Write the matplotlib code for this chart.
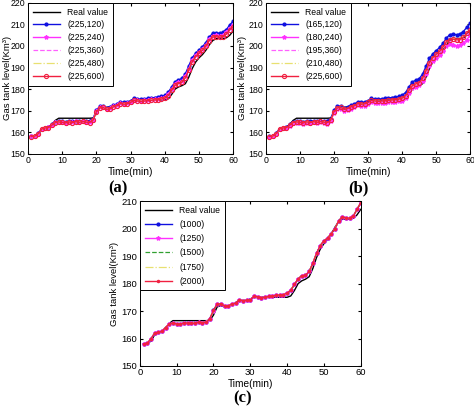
import numpy as np
import matplotlib
matplotlib.use("Agg")
import matplotlib.pyplot as plt

plt.rcParams['font.family'] = ['Liberation Sans', 'DejaVu Sans']

t = np.arange(1, 61)

real = [158.0, 158.3, 159.0, 161.3, 162.0, 162.4, 163.6, 165.5, 166.5, 166.5,
        166.5, 166.5, 166.5, 166.5, 166.5, 166.5, 166.5, 166.5, 166.6, 168.5,
        171.5, 172.0, 171.5, 171.8, 172.4, 172.8, 173.5, 173.5, 173.6, 174.4,
        175.0, 175.0, 175.0, 175.0, 175.0, 175.0, 175.0, 175.0, 175.0, 175.0,
        175.5, 177.5, 180.0, 181.0, 181.6, 182.5, 185.5, 189.5, 192.5, 194.5,
        196.0, 198.0, 200.5, 202.5, 203.4, 203.5, 203.5, 203.8, 205.0, 207.0]

# (a) window 225, different steps
a_120 = [158.2, 158.4, 159.6, 161.7, 162.2, 162.4, 163.6, 164.9, 165.2, 165.0,
         164.8, 165.2, 165.0, 165.3, 165.1, 165.4, 165.2, 165.4, 166.2, 170.3,
         172.0, 172.1, 171.3, 171.8, 172.5, 173.1, 174.1, 173.8, 174.0, 174.6,
         175.7, 175.4, 175.3, 175.5, 175.7, 175.9, 176.1, 176.3, 176.6, 177.1,
         178.5, 181.0, 183.4, 184.2, 185.0, 187.1, 190.7, 194.5, 196.6, 198.1,
         199.6, 201.6, 204.1, 205.9, 206.1, 205.9, 206.4, 207.6, 209.8, 211.5]
a_240 = [158.1, 158.3, 159.4, 161.6, 162.1, 162.3, 163.4, 164.6, 164.9, 164.7,
         164.5, 164.9, 164.7, 165.0, 164.8, 165.1, 164.9, 164.8, 165.8, 169.8,
         171.6, 171.8, 170.9, 171.3, 172.1, 172.6, 173.6, 173.3, 173.5, 174.1,
         175.1, 174.9, 174.7, 174.9, 175.0, 175.2, 175.4, 175.5, 175.8, 176.3,
         177.6, 180.1, 182.4, 183.2, 183.9, 185.9, 189.5, 193.3, 195.6, 197.2,
         198.6, 200.6, 203.1, 204.8, 205.0, 204.7, 205.1, 206.3, 208.4, 209.8]
a_360 = [158.0, 158.3, 159.3, 161.5, 162.1, 162.2, 163.3, 164.6, 164.8, 164.6,
         164.4, 164.8, 164.6, 164.9, 164.7, 165.0, 164.8, 164.6, 165.6, 169.6,
         171.4, 171.6, 170.7, 171.1, 171.9, 172.4, 173.4, 173.1, 173.3, 173.9,
         174.9, 174.7, 174.5, 174.7, 174.8, 175.0, 175.2, 175.3, 175.6, 176.0,
         177.3, 179.8, 182.1, 182.9, 183.5, 185.5, 189.1, 192.9, 195.3, 196.9,
         198.3, 200.3, 202.8, 204.5, 204.6, 204.3, 204.7, 205.9, 208.0, 209.4]
a_480 = [158.0, 158.2, 159.3, 161.5, 162.0, 162.2, 163.3, 164.5, 164.8, 164.6,
         164.3, 164.8, 164.5, 164.9, 164.6, 165.0, 164.7, 164.6, 165.5, 169.5,
         171.3, 171.5, 170.7, 171.1, 171.8, 172.4, 173.3, 173.1, 173.2, 173.9,
         174.8, 174.6, 174.4, 174.6, 174.7, 174.9, 175.1, 175.2, 175.5, 175.9,
         177.1, 179.6, 181.9, 182.7, 183.3, 185.3, 188.9, 192.7, 195.1, 196.7,
         198.1, 200.1, 202.6, 204.3, 204.4, 204.1, 204.4, 205.6, 207.7, 209.1]
a_600 = [158.0, 158.2, 159.3, 161.5, 162.0, 162.2, 163.3, 164.5, 164.8, 164.6,
         164.3, 164.8, 164.5, 164.9, 164.6, 165.0, 164.7, 164.5, 165.5, 169.5,
         171.3, 171.5, 170.6, 171.0, 171.8, 172.3, 173.3, 173.0, 173.2, 173.8,
         174.8, 174.5, 174.3, 174.5, 174.6, 174.8, 175.0, 175.1, 175.4, 175.8,
         177.0, 179.5, 181.8, 182.6, 183.2, 185.2, 188.8, 192.6, 195.0, 196.6,
         198.0, 200.0, 202.5, 204.2, 204.3, 204.0, 204.3, 205.5, 207.6, 209.0]

# (b) different window/step pairs
b_165 = [158.2, 158.4, 159.6, 161.7, 162.2, 162.4, 163.6, 164.9, 165.2, 165.0,
         164.8, 165.2, 165.0, 165.3, 165.1, 165.4, 165.2, 165.4, 166.2, 170.3,
         172.0, 172.1, 171.3, 171.8, 172.5, 173.1, 174.1, 173.8, 174.0, 174.6,
         175.7, 175.4, 175.3, 175.5, 175.7, 175.9, 176.1, 176.3, 176.6, 177.1,
         178.4, 180.9, 183.3, 184.1, 184.8, 186.9, 190.5, 194.2, 196.3, 197.8,
         199.3, 201.2, 203.6, 205.3, 205.5, 205.2, 205.6, 206.7, 208.7, 210.5]
b_180 = [158.0, 158.1, 159.1, 161.3, 161.9, 162.0, 163.0, 164.2, 164.5, 164.3,
         164.0, 164.5, 164.2, 164.6, 164.3, 164.7, 164.3, 164.0, 165.0, 169.0,
         170.8, 171.0, 169.9, 170.3, 171.0, 171.6, 172.6, 172.3, 172.4, 173.0,
         174.0, 173.6, 173.4, 173.5, 173.6, 173.8, 174.0, 174.1, 174.3, 174.7,
         175.8, 178.2, 180.4, 181.2, 181.8, 183.7, 187.1, 190.8, 193.1, 194.5,
         195.8, 197.6, 199.8, 201.0, 200.5, 200.0, 200.3, 201.2, 203.0, 205.0]
b_195 = [158.0, 158.2, 159.2, 161.4, 162.0, 162.1, 163.1, 164.3, 164.6, 164.4,
         164.1, 164.6, 164.3, 164.7, 164.4, 164.8, 164.5, 164.2, 165.2, 169.2,
         171.0, 171.2, 170.2, 170.6, 171.3, 171.9, 172.9, 172.6, 172.7, 173.3,
         174.3, 174.0, 173.8, 173.9, 174.0, 174.2, 174.4, 174.5, 174.8, 175.2,
         176.3, 178.8, 181.0, 181.8, 182.4, 184.3, 187.8, 191.6, 193.9, 195.4,
         196.8, 198.7, 201.0, 202.3, 202.2, 201.8, 202.1, 203.1, 205.0, 206.6]
b_210 = [158.0, 158.2, 159.2, 161.4, 162.0, 162.2, 163.2, 164.5, 164.8, 164.6,
         164.4, 164.8, 164.6, 164.9, 164.7, 165.0, 164.8, 164.6, 165.5, 169.5,
         171.4, 171.6, 170.8, 171.2, 171.9, 172.4, 173.3, 173.1, 173.3, 173.9,
         174.8, 174.6, 174.4, 174.6, 174.7, 174.8, 175.0, 175.1, 175.3, 175.6,
         176.8, 179.3, 181.5, 182.2, 182.8, 184.8, 188.3, 192.1, 194.4, 195.9,
         197.3, 199.3, 201.8, 203.3, 203.5, 203.3, 203.5, 204.3, 206.0, 207.3]
b_225 = [158.0, 158.2, 159.3, 161.5, 162.0, 162.2, 163.3, 164.5, 164.8, 164.6,
         164.3, 164.8, 164.5, 164.9, 164.6, 165.0, 164.7, 164.5, 165.5, 169.5,
         171.3, 171.5, 170.6, 171.0, 171.8, 172.3, 173.3, 173.0, 173.2, 173.8,
         174.8, 174.5, 174.3, 174.5, 174.6, 174.8, 175.0, 175.1, 175.4, 175.8,
         176.9, 179.4, 181.6, 182.4, 183.0, 185.0, 188.5, 192.3, 194.6, 196.1,
         197.5, 199.5, 201.9, 203.0, 203.2, 202.8, 203.0, 204.0, 206.0, 207.5]

# (c) different sample sizes
c_1000 = [158.0, 158.3, 159.8, 161.9, 162.3, 162.6, 164.0, 165.3, 165.7, 165.3,
          165.2, 165.7, 165.6, 165.5, 165.6, 166.0, 165.8, 165.9, 167.2, 170.2,
          172.5, 172.7, 171.9, 171.9, 172.5, 172.9, 174.1, 173.8, 173.9, 174.0,
          175.4, 175.2, 174.9, 175.0, 175.3, 175.5, 175.7, 175.9, 176.0, 176.5,
          177.6, 179.7, 181.7, 182.9, 183.0, 184.4, 187.4, 191.0, 193.8, 195.6,
          196.5, 198.2, 200.0, 202.8, 204.3, 203.9, 203.8, 204.6, 207.0, 209.4]
c_1250 = [158.0, 158.3, 159.7, 161.9, 162.3, 162.6, 164.0, 165.3, 165.6, 165.3,
          165.2, 165.7, 165.6, 165.5, 165.6, 166.0, 165.8, 165.9, 167.1, 170.1,
          172.5, 172.7, 171.9, 171.9, 172.5, 172.9, 174.1, 173.8, 173.9, 174.0,
          175.4, 175.2, 174.9, 175.0, 175.3, 175.5, 175.7, 175.9, 176.0, 176.5,
          177.6, 179.7, 181.7, 182.8, 183.0, 184.4, 187.4, 191.0, 193.8, 195.5,
          196.5, 198.2, 200.0, 202.8, 204.2, 203.9, 203.8, 204.6, 207.0, 209.3]
c_1500 = [158.0, 158.3, 159.8, 161.9, 162.3, 162.6, 164.0, 165.2, 165.6, 165.3,
          165.2, 165.6, 165.6, 165.5, 165.6, 165.9, 165.8, 165.9, 167.1, 170.1,
          172.4, 172.7, 171.9, 171.9, 172.5, 172.9, 174.0, 173.8, 173.9, 174.0,
          175.3, 175.2, 174.9, 175.0, 175.3, 175.4, 175.7, 175.8, 176.0, 176.4,
          177.5, 179.6, 181.7, 182.8, 183.0, 184.3, 187.4, 191.0, 193.7, 195.5,
          196.5, 198.2, 200.0, 202.8, 204.2, 203.9, 203.8, 204.6, 207.0, 209.3]
c_1750 = [158.0, 158.3, 159.8, 161.9, 162.3, 162.6, 164.0, 165.3, 165.7, 165.3,
          165.2, 165.7, 165.6, 165.5, 165.6, 166.0, 165.8, 165.9, 167.2, 170.2,
          172.5, 172.7, 171.9, 171.9, 172.5, 172.9, 174.1, 173.8, 173.9, 174.0,
          175.4, 175.2, 174.9, 175.0, 175.3, 175.5, 175.7, 175.9, 176.0, 176.5,
          177.6, 179.7, 181.7, 182.9, 183.0, 184.4, 187.4, 191.0, 193.8, 195.6,
          196.5, 198.2, 200.0, 202.8, 204.3, 203.9, 203.8, 204.6, 207.0, 209.4]
c_2000 = [158.0, 158.3, 159.8, 161.9, 162.3, 162.6, 164.0, 165.3, 165.7, 165.3,
          165.2, 165.7, 165.6, 165.5, 165.6, 166.0, 165.8, 165.9, 167.2, 170.2,
          172.5, 172.7, 171.9, 171.9, 172.5, 172.9, 174.1, 173.8, 173.9, 174.0,
          175.4, 175.2, 174.9, 175.0, 175.3, 175.5, 175.7, 175.9, 176.0, 176.5,
          177.6, 179.7, 181.7, 182.9, 183.0, 184.4, 187.4, 191.0, 193.8, 195.6,
          196.5, 198.2, 200.0, 202.8, 204.3, 203.9, 203.8, 204.6, 207.0, 209.4]

labels_a = ["(225,120)", "(225,240)", "(225,360)", "(225,480)", "(225,600)"]
labels_b = ["(165,120)", "(180,240)", "(195,360)", "(210,480)", "(225,600)"]
labels_c = ["(1000)", "(1250)", "(1500)", "(1750)", "(2000)"]


def draw(ax, series, labels, dash_col, ylim, yticks, circles, spacing, ylab_x, tsize):
    ax.plot(t, real, color='k', lw=1.0, label="Real value")
    ax.plot(t, series[0], color='#1010e0', lw=1.0, marker='.', ms=4, label=labels[0])
    ax.plot(t, series[1], color='#ff30ff', lw=1.0, marker='*', ms=3, label=labels[1])
    ax.plot(t, series[2], color=dash_col, lw=0.9, ls='--', label=labels[2])
    ax.plot(t, series[3], color='#e8e070', lw=0.9, ls='-.', label=labels[3])
    if circles:
        ax.plot(t, series[4], color='#f02040', lw=1.0, marker='o', ms=3,
                mfc='none', mew=0.8, label=labels[4])
    else:
        ax.plot(t, series[4], color='#f02040', lw=1.0, marker='.', ms=3, label=labels[4])
    ax.set_xlim(0, 60)
    ax.set_ylim(*ylim)
    ax.set_xticks(range(0, 61, 10))
    ax.set_yticks(yticks)
    ax.tick_params(direction='in', labelsize=tsize, length=2.5, top=True, right=True, pad=1.8)
    ax.set_xlabel("Time(min)", fontsize=7.3, labelpad=1)
    ax.set_ylabel("Gas tank level(Km³)", fontsize=6.8)
    ax.yaxis.set_label_coords(ylab_x, 0.5)
    for s in ax.spines.values():
        s.set_linewidth(0.7)
    leg = ax.legend(loc='upper left', fontsize=6.2, borderaxespad=0, fancybox=False,
                    edgecolor='k', framealpha=1, handlelength=3.2, labelspacing=spacing,
                    borderpad=0.55)
    leg.get_frame().set_linewidth(0.7)


fig = plt.figure(figsize=(4.74, 4.08), dpi=100)

ax1 = fig.add_axes([0.059, 0.623, 0.433, 0.370])
draw(ax1, [a_120, a_240, a_360, a_480, a_600], labels_a, '#ff60ff',
     (150, 220), range(150, 221, 10), True, 0.45, -0.08, 6.3)

ax2 = fig.add_axes([0.561, 0.623, 0.431, 0.370])
draw(ax2, [b_165, b_180, b_195, b_210, b_225], labels_b, '#ff60ff',
     (150, 220), range(150, 221, 10), True, 0.45, -0.095, 6.3)

ax3 = fig.add_axes([0.295, 0.103, 0.466, 0.404])
draw(ax3, [c_1000, c_1250, c_1500, c_1750, c_2000], labels_c, '#30a030',
     (150, 210), range(150, 211, 10), False, 0.6, -0.095, 6.8)

serif = dict(family=['Liberation Serif', 'DejaVu Serif'], fontweight='bold', fontsize=12,
             ha='center', va='center')
fig.text(118 / 474, 1 - 188 / 408, "(a)", **serif)
fig.text(358 / 474, 1 - 188 / 408, "(b)", **serif)
fig.text(243 / 474, 1 - 398 / 408, "(c)", **serif)

fig.savefig("out.png", dpi=100)
